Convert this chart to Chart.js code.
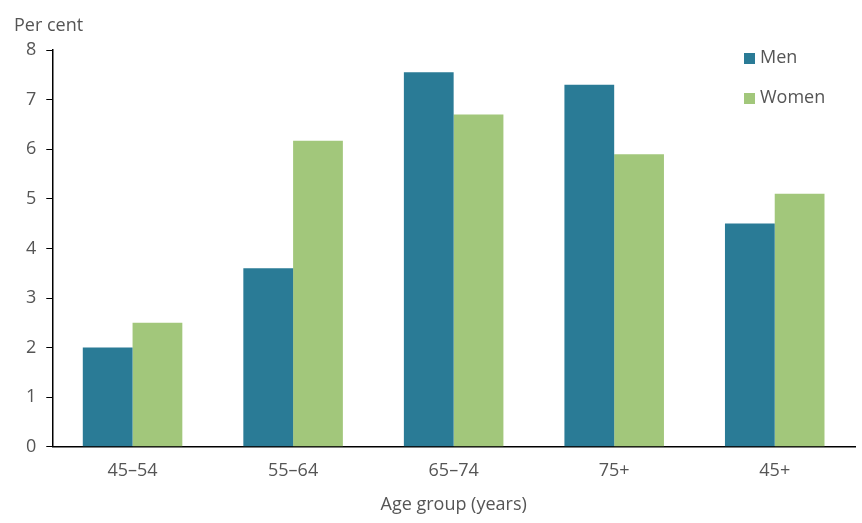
<!DOCTYPE html>
<html>
<head>
<meta charset="utf-8">
<script src="https://cdn.jsdelivr.net/npm/chart.js@4"></script>
<style>
  html, body { margin: 0; padding: 0; background: #fff; }
  #wrap { width: 862px; height: 523px; position: relative; }
</style>
</head>
<body>
<div id="wrap"><canvas id="myChart"></canvas></div>
<script>
// Chart data
const ageGroups = ['45–54', '55–64', '65–74', '75+', '45+'];
const menValues = [2.0, 3.6, 7.55, 7.3, 4.5];
const womenValues = [2.5, 6.17, 6.7, 5.9, 5.1];
const yTicks = [0, 1, 2, 3, 4, 5, 6, 7, 8];

const textColor = '#555555';
const fontFamily = "'Open Sans', sans-serif";

// Draws the "Per cent" label and the top-right legend
const extraText = {
    id: 'extraText',
    afterDraw(chart) {
        const ctx = chart.ctx;
        ctx.save();
        ctx.font = '18px ' + fontFamily;
        ctx.fillStyle = textColor;
        ctx.textBaseline = 'middle';
        ctx.textAlign = 'left';
        ctx.fillText('Per cent', 14, 26);

        chart.data.datasets.forEach(function (ds, i) {
            const y = 58 + i * 40;
            ctx.fillStyle = ds.backgroundColor;
            ctx.fillRect(744, y - 5, 11, 11);
            ctx.fillStyle = textColor;
            ctx.fillText(ds.label, 760, y);
        });
        ctx.restore();
    }
};

new Chart('myChart', {
    type: 'bar',
    data: {
        labels: ageGroups,
        datasets: [
            { label: 'Men', data: menValues, backgroundColor: '#2a7b96' },
            { label: 'Women', data: womenValues, backgroundColor: '#a2c77b' }
        ]
    },
    options: {
        responsive: true,
        maintainAspectRatio: false,
        animation: false,
        layout: { padding: { top: 50, right: 7, left: 16, bottom: 3 } },
        datasets: { bar: { categoryPercentage: 0.62, barPercentage: 1.0 } },
        plugins: {
            legend: { display: false },
            tooltip: { enabled: false }
        },
        scales: {
            x: {
                grid: { display: false, drawTicks: false },
                border: { color: '#000', width: 1.5 },
                ticks: { color: textColor, font: { size: 18, family: fontFamily }, padding: 13 },
                title: {
                    display: true,
                    text: 'Age group (years)',
                    color: textColor,
                    font: { size: 18, family: fontFamily },
                    padding: { top: 0 }
                }
            },
            y: {
                min: 0,
                max: 8,
                afterBuildTicks(axis) {
                    axis.ticks = yTicks.map(v => ({ value: v }));
                },
                grid: { drawOnChartArea: false, drawTicks: true, tickLength: 6, color: '#000' },
                border: { color: '#000', width: 1.5 },
                ticks: { color: textColor, font: { size: 18, family: fontFamily }, padding: 10 }
            }
        }
    },
    plugins: [extraText]
});
</script>
</body>
</html>
